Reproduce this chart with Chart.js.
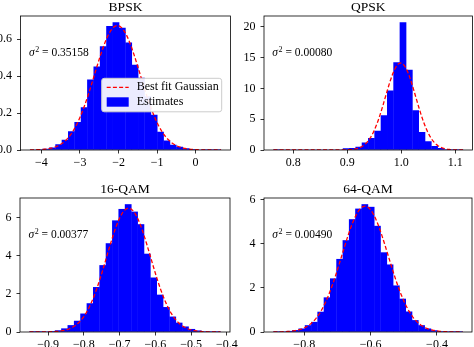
<!DOCTYPE html>
<html>
<head>
<meta charset="utf-8">
<title>Estimate histograms</title>
<script src="https://cdn.jsdelivr.net/npm/chart.js@4.4.1/dist/chart.umd.min.js"></script>
<style>
  html, body { margin: 0; padding: 0; background: #fff; overflow: hidden; }
  body { position: relative; width: 474px; height: 347px; }
  canvas { position: absolute; }
</style>
</head>
<body>
<canvas id="c0"></canvas>
<canvas id="c1"></canvas>
<canvas id="c2"></canvas>
<canvas id="c3"></canvas>
<script>
const titles = ['BPSK', 'QPSK', '16-QAM', '64-QAM'];
const seriesNames = ['Best fit Gaussian', 'Estimates'];
const varianceLabels = ['0.35158', '0.00080', '0.00377', '0.00490'];
const fitMeans = [-2.03, 0.999, -0.675, -0.617];

// histogram range (first and last bin edge), 30 bins each
const binRanges = [[-4.297, 0.660], [0.7636, 1.1146], [-0.952, -0.418], [-0.8928, -0.323]];

// normalised counts (density) per bin
const bpskDensity = [0.002, 0.003, 0.006, 0.013, 0.03, 0.054, 0.10, 0.15, 0.23, 0.38,
  0.45, 0.56, 0.67, 0.69, 0.66, 0.58, 0.46, 0.39, 0.29, 0.19,
  0.098, 0.05, 0.027, 0.016, 0.008, 0.004, 0.002, 0.001, 0.0005, 0.0005];
const qpskDensity = [0.01, 0, 0, 0, 0, 0, 0, 0, 0, 0,
  0, 0.25, 0.3, 0.5, 1.2, 1.9, 3.1, 5.6, 9.6, 14.2,
  20.7, 13.0, 6.4, 2.9, 1.4, 0.6, 0.3, 0.1, 0.05, 0.02];
const qam16Density = [0.005, 0.01, 0.02, 0.04, 0.08, 0.18, 0.35, 0.58, 0.96, 1.5,
  2.35, 3.5, 4.65, 5.85, 6.45, 6.70, 6.31, 5.65, 4.1, 2.85,
  1.95, 1.3, 0.8, 0.48, 0.28, 0.15, 0.07, 0.03, 0.012, 0.005];
const qam64Density = [0.01, 0.02, 0.04, 0.08, 0.15, 0.3, 0.45, 0.91, 1.56, 2.42,
  3.3, 4.15, 5.1, 5.58, 5.78, 5.66, 4.8, 3.6, 3.05, 2.1,
  1.5, 0.92, 0.53, 0.3, 0.15, 0.07, 0.03, 0.012, 0.005, 0.002];
const densities = [bpskDensity, qpskDensity, qam16Density, qam64Density];

const xTickValues = [[-4, -3, -2, -1, 0], [0.8, 0.9, 1.0, 1.1],
  [-0.9, -0.8, -0.7, -0.6, -0.5, -0.4], [-0.8, -0.6, -0.4]];
const xTickLabels = [['\u22124', '\u22123', '\u22122', '\u22121', '0'], ['0.8', '0.9', '1.0', '1.1'],
  ['\u22120.9', '\u22120.8', '\u22120.7', '\u22120.6', '\u22120.5', '\u22120.4'],
  ['\u22120.8', '\u22120.6', '\u22120.4']];
const yTickValues = [[0, 0.2, 0.4, 0.6], [0, 5, 10, 15, 20], [0, 2, 4, 6], [0, 2, 4, 6]];
const yTickLabels = [['0.0', '0.2', '0.4', '0.6'], ['0', '5', '10', '15', '20'],
  ['0', '2', '4', '6'], ['0', '2', '4', '6']];

// plot rectangles on the page: left, top, right, bottom
const plotBoxes = [
  [20.5, 16, 230.5, 150],
  [264, 16, 472.5, 150],
  [20, 198, 230, 332],
  [264, 198, 472, 332]
];

const FONT = '"Liberation Serif", "Times New Roman", serif';
Chart.defaults.font.family = FONT;
Chart.defaults.font.size = 12;
Chart.defaults.color = '#000';

function histBars(vals, lo, hi) {
  const w = (hi - lo) / vals.length;
  return vals.map((v, k) => ({ x: lo + (k + 0.5) * w, y: v }));
}

// fitted normal density with the stated variance
function gaussianCurve(mean, variance, lo, hi, n) {
  const sd = Math.sqrt(variance);
  const pts = [];
  for (let k = 0; k <= n; k++) {
    const x = lo + (hi - lo) * k / n;
    pts.push({ x, y: Math.exp(-0.5 * ((x - mean) / sd) ** 2) / (sd * Math.sqrt(2 * Math.PI)) });
  }
  return pts;
}

function boxPath(ctx, x, y, w, h, r) {
  ctx.beginPath();
  ctx.moveTo(x + r, y);
  ctx.arcTo(x + w, y, x + w, y + h, r);
  ctx.arcTo(x + w, y + h, x, y + h, r);
  ctx.arcTo(x, y + h, x, y, r);
  ctx.arcTo(x, y, x + w, y, r);
  ctx.closePath();
}

function drawLegend(chart) {
  const ctx = chart.ctx, a = chart.chartArea;
  const bw = 120, bh = 33.5;
  const bx = a.right - 8.8 - bw, by = a.top + 62.3;
  ctx.fillStyle = 'rgba(255,255,255,0.92)';
  ctx.strokeStyle = '#cccccc';
  ctx.lineWidth = 1;
  boxPath(ctx, bx, by, bw, bh, 2.5);
  ctx.fill();
  ctx.stroke();

  const [fit, est] = chart.data.datasets;
  ctx.strokeStyle = fit.borderColor;
  ctx.lineWidth = fit.borderWidth;
  ctx.setLineDash(fit.borderDash);
  ctx.beginPath();
  ctx.moveTo(bx + 5, by + 9);
  ctx.lineTo(bx + 27, by + 9);
  ctx.stroke();
  ctx.setLineDash([]);
  ctx.fillStyle = est.backgroundColor;
  ctx.fillRect(bx + 5, by + 19, 22, 9.4);

  ctx.fillStyle = '#000';
  ctx.font = '12px ' + FONT;
  ctx.textAlign = 'left';
  ctx.textBaseline = 'middle';
  ctx.fillText(fit.label, bx + 35, by + 9);
  ctx.fillText(est.label, bx + 35, by + 23.4);
}

const panelNotes = {
  id: 'panelNotes',
  afterDatasetsDraw(chart, args, opts) {
    const ctx = chart.ctx, a = chart.chartArea;
    const w = a.right - a.left, h = a.bottom - a.top;
    ctx.save();
    ctx.fillStyle = '#000';
    ctx.textBaseline = 'alphabetic';
    ctx.textAlign = 'center';
    ctx.font = '13.5px ' + FONT;
    ctx.fillText(opts.title, a.left + w / 2, a.top - 5.5);

    // sigma^2 = value
    let x = a.left + 0.04 * w;
    const y = a.top + 0.27 * h + 4;
    ctx.textAlign = 'left';
    ctx.font = 'italic 11.5px ' + FONT;
    ctx.fillText('\u03c3', x, y);
    x += ctx.measureText('\u03c3').width + 0.6;
    ctx.font = '8px ' + FONT;
    ctx.fillText('2', x, y - 4.5);
    x += ctx.measureText('2').width;
    ctx.font = '11.5px ' + FONT;
    ctx.fillText(' = ' + opts.variance, x, y);

    if (opts.legend) drawLegend(chart);

    ctx.strokeStyle = '#000';
    ctx.lineWidth = 0.8;
    ctx.strokeRect(a.left, a.top, w, h);
    ctx.restore();
  }
};

titles.forEach((title, i) => {
  const [l, t, r, b] = plotBoxes[i];
  const canvasLeft = Math.floor(l) - 36;
  const canvasTop = Math.floor(t) - 24;
  const yAxisW = l - canvasLeft;
  const padTop = t - canvasTop;
  const xAxisH = 30;
  const cw = Math.ceil(r - l + yAxisW + 24);
  const ch = Math.ceil(b - t + padTop + xAxisH + 4);
  const padRight = cw - yAxisW - (r - l);
  const padBottom = ch - padTop - (b - t) - xAxisH;

  const canvas = document.getElementById('c' + i);
  canvas.width = cw;
  canvas.height = ch;
  canvas.style.left = canvasLeft + 'px';
  canvas.style.top = canvasTop + 'px';
  canvas.style.width = cw + 'px';
  canvas.style.height = ch + 'px';

  const [lo, hi] = binRanges[i];
  const span = hi - lo;
  const bars = histBars(densities[i], lo, hi);
  const curve = gaussianCurve(fitMeans[i], parseFloat(varianceLabels[i]), lo, hi, 240);
  const yTop = 1.05 * Math.max(...densities[i], ...curve.map(p => p.y));

  new Chart(canvas, {
    type: 'bar',
    data: {
      datasets: [
        {
          type: 'line', label: seriesNames[0], data: curve,
          borderColor: '#ff0000', borderWidth: 1.3, borderDash: [4, 2.2],
          pointRadius: 0, fill: false, tension: 0, order: 0
        },
        {
          type: 'bar', label: seriesNames[1], data: bars,
          backgroundColor: '#0000ff', borderWidth: 0, inflateAmount: 0.2,
          categoryPercentage: 1, barPercentage: 1, order: 1
        }
      ]
    },
    options: {
      responsive: false,
      animation: false,
      devicePixelRatio: 1,
      layout: { padding: { left: 0, top: padTop, right: padRight, bottom: padBottom } },
      plugins: {
        legend: { display: false },
        tooltip: { enabled: false },
        panelNotes: { title, variance: varianceLabels[i], legend: i === 0 }
      },
      scales: {
        x: {
          type: 'linear', min: lo - 0.05 * span, max: hi + 0.05 * span, offset: false,
          grid: { drawOnChartArea: false, drawTicks: true, tickLength: 3.5, color: '#000', lineWidth: 0.8, offset: false },
          border: { display: false },
          ticks: { autoSkip: false, maxRotation: 0, padding: 2, callback: (v, k) => xTickLabels[i][k] },
          afterBuildTicks: ax => { ax.ticks = xTickValues[i].map(v => ({ value: v })); },
          afterFit: ax => { ax.height = xAxisH; }
        },
        y: {
          type: 'linear', min: 0, max: yTop,
          grid: { drawOnChartArea: false, drawTicks: true, tickLength: 3.5, color: '#000', lineWidth: 0.8 },
          border: { display: false },
          ticks: { padding: 5, callback: (v, k) => yTickLabels[i][k] },
          afterBuildTicks: ax => { ax.ticks = yTickValues[i].map(v => ({ value: v })); },
          afterFit: ax => { ax.width = yAxisW; }
        }
      }
    },
    plugins: [panelNotes]
  });
});
</script>
</body>
</html>
